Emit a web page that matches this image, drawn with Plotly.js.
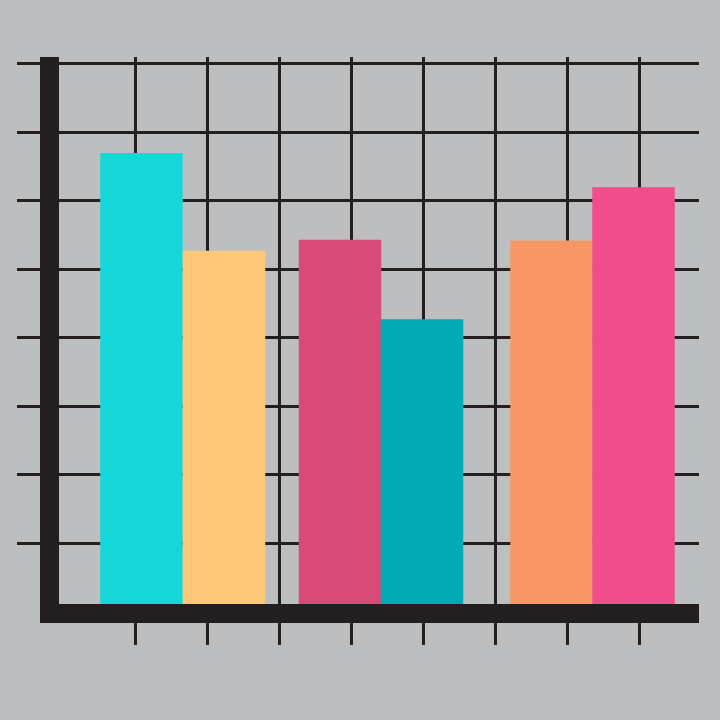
<!DOCTYPE html>
<html>
<head>
<meta charset="utf-8">
<script src="https://cdn.plot.ly/plotly-3.0.1.min.js"></script>
<style>
html,body{margin:0;padding:0;background:#bdbec0;}
#chart{width:720px;height:720px;}
</style>
</head>
<body>
<div id="chart"></div>
<script>
// Data (grid units)
var barNames = ['A1', 'A2', 'B1', 'B2', 'C1', 'C2'];
var barPositions = [1.09, 2.236, 3.847, 4.986, 6.785, 7.924];
var barValues = [6.70, 5.27, 5.43, 4.27, 5.42, 6.20];
var barColors = ['#16d7d8', '#fec878', '#d84a77', '#00abb5', '#f79864', '#f04d8a'];
var gridX = [1, 2, 3, 4, 5, 6, 7, 8];
var gridY = [1, 2, 3, 4, 5, 6, 7, 8];

var ink = '#231f20';

var trace = {
  type: 'bar',
  x: barPositions,
  y: barValues,
  text: barNames,
  textposition: 'none',
  hoverinfo: 'text+y',
  width: 1.146,
  marker: {color: barColors, line: {width: 0}}
};

var layout = {
  width: 720,
  height: 720,
  paper_bgcolor: '#bdbec0',
  plot_bgcolor: '#bdbec0',
  showlegend: false,
  margin: {l: 59, r: 21, t: 57, b: 116, pad: 0},
  xaxis: {
    range: [-0.0556, 8.833],
    tickmode: 'array',
    tickvals: gridX,
    showticklabels: false,
    showgrid: true,
    gridcolor: ink,
    gridwidth: 3,
    zeroline: false,
    showline: true,
    linecolor: ink,
    linewidth: 19,
    ticks: 'outside',
    ticklen: 22,
    tickwidth: 3,
    tickcolor: ink,
    fixedrange: true
  },
  yaxis: {
    range: [0.1086, 8.102],
    tickmode: 'array',
    tickvals: gridY,
    showticklabels: false,
    showgrid: true,
    gridcolor: ink,
    gridwidth: 3,
    zeroline: false,
    showline: true,
    linecolor: ink,
    linewidth: 19,
    ticks: 'outside',
    ticklen: 23,
    tickwidth: 3,
    tickcolor: ink,
    fixedrange: true
  }
};

Plotly.newPlot('chart', [trace], layout, {displayModeBar: false, staticPlot: true});
</script>
</body>
</html>
